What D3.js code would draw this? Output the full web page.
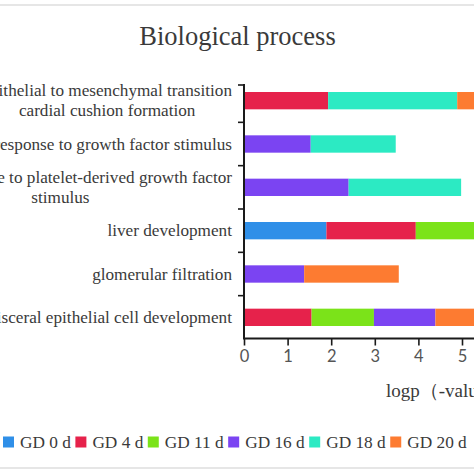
<!DOCTYPE html>
<html><head><meta charset="utf-8">
<script src="https://cdn.jsdelivr.net/npm/d3@7"></script>
<style>html,body{margin:0;padding:0;background:#fff;}svg{display:block;}</style>
</head><body>
<svg id="chart" width="474" height="474"></svg>
<script>
// ---- data ----
const categories = [
  ["epithelial to mesenchymal transition", "cardial cushion formation"],
  ["cellular response to growth factor stimulus"],
  ["cellular response to platelet-derived growth factor", "stimulus"],
  ["liver development"],
  ["glomerular filtration"],
  ["glomerular visceral epithelial cell development"]
];
const seriesNames = ["GD 0 d", "GD 4 d", "GD 11 d", "GD 16 d", "GD 18 d", "GD 20 d"];
const gd0  = [0,    0,    0,    1.89, 0,    0   ];
const gd4  = [1.93, 0,    0,    2.05, 0,    1.55];
const gd11 = [0,    0,    0,    1.50, 0,    1.43];
const gd16 = [0,    1.53, 2.40, 0,    1.38, 1.41];
const gd18 = [2.96, 1.95, 2.58, 0,    0,    0   ];
const gd20 = [1.00, 0,    0,    0,    2.17, 1.20];
const xTicks = [0, 1, 2, 3, 4, 5];
const titleText = "Biological process";
const xTitle = "logp（-value）";
const colors = ["#2f8fe8", "#e6224b", "#7be319", "#7b44f2", "#2ceac3", "#fd7b31"];

// ---- build ----
const seriesVals = [gd0, gd4, gd11, gd16, gd18, gd20];
const table = categories.map((c, i) => {
  const row = {idx: i};
  seriesNames.forEach((s, j) => row[s] = seriesVals[j][i]);
  return row;
});
const stacked = d3.stack().keys(seriesNames)(table);

const svg = d3.select("#chart");
const serif = "'Liberation Serif', 'Times New Roman', serif";

// frame lines
svg.append("rect").attr("x", 0).attr("y", 4).attr("width", 474).attr("height", 2).attr("fill", "#e6e6e6");
svg.append("rect").attr("x", 0).attr("y", 467).attr("width", 474).attr("height", 2).attr("fill", "#e6e6e6");

const x = d3.scaleLinear().domain([0, 7]).range([244, 244 + 7 * 43.6]);
const y = d3.scaleBand().domain(d3.range(categories.length)).range([79, 339]).paddingInner(0.6).paddingOuter(0.3);

// title
svg.append("text").attr("x", 237.5).attr("y", 45).attr("text-anchor", "middle")
  .attr("font-family", serif).attr("font-size", 26.5).attr("fill", "#3a3a3a").text(titleText);

// bars
svg.append("g").selectAll("g").data(stacked).join("g")
  .attr("fill", (d, i) => colors[i])
  .selectAll("rect").data(d => d.filter(p => p[1] - p[0] > 0)).join("rect")
  .attr("x", d => x(d[0])).attr("width", d => x(d[1]) - x(d[0]))
  .attr("y", d => y(d.data.idx)).attr("height", y.bandwidth());

// y axis with ticks at band boundaries
const step = y.step();
const boundaries = d3.range(categories.length + 1).map(i => 79 + i * step);
const ya = svg.append("g").attr("stroke", "#1a1a1a");
ya.append("line").attr("x1", 244).attr("x2", 244).attr("y1", 84).attr("y2", 339).attr("stroke-width", 2);
ya.selectAll("line.t").data(boundaries.slice(0, -1).map((b, i) => i === 0 ? 85 : b)).join("line").attr("class", "t")
  .attr("x1", 238).attr("x2", 244).attr("y1", d => d).attr("y2", d => d).attr("stroke-width", 1.6);

// x axis
const xa = svg.append("g").attr("transform", "translate(0,338.5)")
  .call(d3.axisBottom(x).tickValues(xTicks).tickSize(7).tickPadding(5).tickFormat(d3.format("d")));
xa.select(".domain").attr("stroke", "#1a1a1a").attr("stroke-width", 2).attr("d", "M243,0H474");
xa.selectAll(".tick line").attr("stroke", "#1a1a1a").attr("stroke-width", 1.6);
xa.selectAll(".tick text").attr("font-family", "Lato, 'Open Sans', sans-serif").attr("font-size", 16.5).attr("fill", "#555");

// category labels (centered block, right edge at 232)
const lbl = svg.append("g").attr("font-family", serif).attr("font-size", 17.2).attr("fill", "#3a3a3a");
categories.forEach((lines, i) => {
  const cy = y(i) + y.bandwidth() / 2;
  const g = lbl.append("g");
  const texts = lines.map((l, k) => g.append("text")
    .attr("y", cy + 5.5 + (k - (lines.length - 1) / 2) * 20).text(l));
  const w = d3.max(texts, t => t.node().getComputedTextLength());
  const cx = 232 - w / 2;
  texts.forEach(t => t.attr("x", cx).attr("text-anchor", "middle"));
});

// x title
svg.append("text").attr("x", 386).attr("y", 397).attr("font-family", serif)
  .attr("font-size", 19).attr("fill", "#3a3a3a").text(xTitle);

// legend
const leg = svg.append("g");
let lx = 3;
seriesNames.forEach((s, i) => {
  leg.append("rect").attr("x", lx).attr("y", 436.5).attr("width", 11).attr("height", 11).attr("fill", colors[i]);
  const t = leg.append("text").attr("x", lx + 17).attr("y", 448).attr("font-family", serif)
    .attr("font-size", 17.3).attr("fill", "#3a3a3a").text(s);
  lx += 17 + t.node().getComputedTextLength() + 4.5;
});
</script>
</body></html>
